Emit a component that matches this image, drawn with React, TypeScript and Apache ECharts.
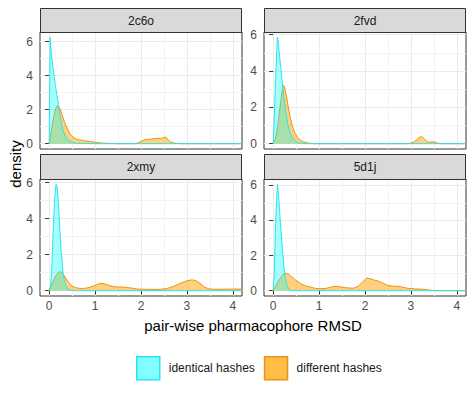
import React, { useEffect, useRef } from "react";
import * as echarts from "echarts";

const panelNames = ["2c6o", "2fvd", "2xmy", "5d1j"];
const seriesNames = ["identical hashes", "different hashes"];
const xTicks = [0, 1, 2, 3, 4];
const yTicks = [0, 2, 4, 6];
const xMinor = [0.5, 1.5, 2.5, 3.5];
const yMinor = [1, 3, 5];
const xTitle = "pair-wise pharmacophore RMSD";
const yTitle = "density";

const identical2c6o = [[0,0],[0.02,6.25],[0.05,5.2],[0.09,4.35],[0.13,3.5],[0.17,2.85],[0.2,2.3],[0.25,1.45],[0.3,0.8],[0.35,0.45],[0.4,0.25],[0.46,0.13],[0.52,0.07],[0.6,0.03],[0.8,0.01],[1,0],[4.2,0]];
const different2c6o = [[0,0],[0.05,0.8],[0.1,1.6],[0.14,2.05],[0.18,2.24],[0.22,2.15],[0.27,1.8],[0.33,1.3],[0.4,0.85],[0.47,0.52],[0.54,0.34],[0.62,0.24],[0.7,0.2],[0.8,0.16],[0.9,0.12],[1.0,0.08],[1.1,0.05],[1.2,0.03],[1.35,0.01],[1.5,0],[1.88,0],[1.95,0.06],[2.03,0.18],[2.1,0.25],[2.18,0.25],[2.26,0.28],[2.34,0.32],[2.42,0.31],[2.48,0.34],[2.54,0.39],[2.58,0.26],[2.63,0.12],[2.7,0.05],[2.8,0.01],[2.9,0],[4.2,0]];

const identical2fvd = [[0,0],[0.03,1.9],[0.06,4.1],[0.09,5.85],[0.11,5.6],[0.14,4.8],[0.17,4.1],[0.2,3.3],[0.24,2.4],[0.28,1.65],[0.32,1.05],[0.37,0.6],[0.42,0.33],[0.48,0.14],[0.55,0.05],[0.65,0.01],[0.75,0],[4.2,0]];
const different2fvd = [[0,0],[0.05,0.3],[0.1,1.0],[0.15,2.0],[0.19,2.85],[0.22,3.22],[0.25,3.1],[0.29,2.6],[0.33,2.0],[0.37,1.45],[0.42,0.95],[0.47,0.6],[0.53,0.35],[0.6,0.18],[0.67,0.09],[0.75,0.04],[0.85,0.01],[0.95,0],[2.9,0],[3.0,0.03],[3.08,0.12],[3.16,0.3],[3.23,0.4],[3.28,0.3],[3.33,0.15],[3.38,0.08],[3.44,0.1],[3.5,0.1],[3.56,0.05],[3.63,0.01],[3.7,0],[4.2,0]];

const identical2xmy = [[0,0],[0.03,0.2],[0.06,1.4],[0.09,3.5],[0.12,5.2],[0.15,5.9],[0.17,5.85],[0.2,4.9],[0.23,3.5],[0.26,2.2],[0.3,1.05],[0.33,0.55],[0.36,0.28],[0.41,0.07],[0.5,0.01],[0.6,0],[4.2,0]];
const different2xmy = [[0,0],[0.05,0.3],[0.1,0.6],[0.15,0.85],[0.2,1.0],[0.25,1.06],[0.3,0.95],[0.36,0.7],[0.42,0.45],[0.5,0.25],[0.6,0.15],[0.7,0.12],[0.8,0.14],[0.9,0.2],[1.0,0.3],[1.08,0.38],[1.15,0.41],[1.22,0.37],[1.3,0.29],[1.4,0.23],[1.5,0.2],[1.6,0.2],[1.7,0.18],[1.8,0.14],[1.9,0.1],[2.0,0.08],[2.2,0.07],[2.4,0.07],[2.55,0.11],[2.7,0.23],[2.85,0.4],[3.0,0.55],[3.1,0.6],[3.18,0.57],[3.28,0.42],[3.38,0.2],[3.48,0.1],[3.6,0.08],[3.8,0.08],[4.0,0.09],[4.2,0.09]];

const identical5d1j = [[0,0],[0.02,0.8],[0.04,2.6],[0.07,5.0],[0.094,6.05],[0.12,5.3],[0.14,4.5],[0.166,3.55],[0.2,2.4],[0.24,1.27],[0.27,0.7],[0.3,0.3],[0.34,0.1],[0.4,0.02],[0.5,0],[4.2,0]];
const different5d1j = [[0,0],[0.05,0.25],[0.1,0.5],[0.15,0.7],[0.2,0.88],[0.275,0.99],[0.33,0.95],[0.4,0.8],[0.49,0.6],[0.6,0.4],[0.71,0.27],[0.82,0.2],[0.92,0.13],[1.0,0.11],[1.13,0.12],[1.25,0.2],[1.35,0.25],[1.45,0.22],[1.57,0.17],[1.67,0.15],[1.75,0.14],[1.85,0.25],[1.95,0.5],[2.04,0.72],[2.12,0.68],[2.2,0.6],[2.29,0.55],[2.4,0.42],[2.5,0.3],[2.6,0.26],[2.72,0.25],[2.82,0.2],[2.94,0.13],[3.1,0.1],[3.23,0.09],[3.35,0.05],[3.45,0.02],[3.55,0],[4.2,0]];

const identicalByPanel = [identical2c6o, identical2fvd, identical2xmy, identical5d1j];
const differentByPanel = [different2c6o, different2fvd, different2xmy, different5d1j];

export default function App() {
  const ref = useRef<HTMLDivElement>(null);
  useEffect(() => {
    const chart = echarts.init(ref.current!, null, { renderer: "svg" });
    const font = "'Liberation Sans', Arial, Helvetica, sans-serif";
    const layout = [
      { left: 40, top: 32, stripTop: 8, stripH: 24 },
      { left: 264, top: 32, stripTop: 8, stripH: 24 },
      { left: 40, top: 179, stripTop: 154, stripH: 25 },
      { left: 264, top: 179, stripTop: 154, stripH: 25 },
    ];
    const W = 202;
    const H = 117;
    const cyanLine = "#2BE5EE";
    const cyanFill = "rgba(0,255,255,0.5)";
    const orangeLine = "#EB9316";
    const orangeFill = "rgba(255,165,0,0.72)";

    const grid = layout.map((p) => ({
      left: p.left, top: p.top, width: W, height: H,
      show: true, borderColor: "#333333", borderWidth: 1, backgroundColor: "#ffffff",
    }));

    const xAxis = layout.map((_, i) => ({
      type: "value", gridIndex: i, min: -0.2, max: 4.2,
      axisLine: { show: false },
      axisTick: { show: i >= 2, length: 4, lineStyle: { color: "#333333" }, customValues: xTicks },
      axisLabel: { show: i >= 2, customValues: xTicks, fontSize: 12, color: "#4D4D4D", margin: 4, fontFamily: font },
      splitLine: { show: true, lineStyle: { color: "#EBEBEB", width: 1 } },
    }));

    const yAxis = layout.map((_, i) => ({
      type: "value", gridIndex: i,
      min: (v: any) => -0.05 * v.max,
      max: (v: any) => 1.05 * v.max,
      splitNumber: 3,
      axisLine: { show: false },
      axisTick: { show: true, length: 4, lineStyle: { color: "#333333" }, customValues: yTicks },
      axisLabel: { customValues: yTicks, fontSize: 12, color: "#4D4D4D", margin: 7, fontFamily: font },
      splitLine: { show: true, lineStyle: { color: "#EBEBEB", width: 1 } },
    }));

    const series: any[] = [];
    layout.forEach((_, i) => {
      series.push({
        type: "line", name: "minor-grid-" + i, xAxisIndex: i, yAxisIndex: i, data: [], z: 1, silent: true,
        markLine: {
          z: 1, silent: true, symbol: ["none", "none"], label: { show: false },
          lineStyle: { color: "#F3F3F3", width: 1, type: "solid" },
          emphasis: { disabled: true },
          data: [...xMinor.map((v) => ({ xAxis: v })), ...yMinor.map((v) => ({ yAxis: v }))],
        },
      });
      series.push({
        type: "line", name: seriesNames[1], xAxisIndex: i, yAxisIndex: i,
        data: differentByPanel[i], showSymbol: false, symbol: "none", z: 2,
        lineStyle: { color: orangeLine, width: 1 },
        itemStyle: { color: orangeLine },
        areaStyle: { color: orangeFill, origin: 0 },
        emphasis: { disabled: true },
      });
      series.push({
        type: "line", name: seriesNames[0], xAxisIndex: i, yAxisIndex: i,
        data: identicalByPanel[i], showSymbol: false, symbol: "none", z: 3,
        lineStyle: { color: cyanLine, width: 1 },
        itemStyle: { color: cyanLine },
        areaStyle: { color: cyanFill, origin: 0 },
        emphasis: { disabled: true },
      });
    });

    const graphics: any[] = [];
    layout.forEach((p, i) => {
      graphics.push({
        type: "rect", z: 100,
        shape: { x: p.left + 0.5, y: p.stripTop + 0.5, width: W - 1, height: p.stripH },
        style: { fill: "#D9D9D9", stroke: "#333333", lineWidth: 1 },
      });
      graphics.push({
        type: "text", z: 101, x: p.left + W / 2, y: p.stripTop + p.stripH / 2 + 0.5,
        style: { text: panelNames[i], fontSize: 12, fill: "#1A1A1A", align: "center", verticalAlign: "middle", fontFamily: font },
      });
    });
    graphics.push({
      type: "text", x: 15, y: 164, rotation: Math.PI / 2,
      style: { text: yTitle, fontSize: 15, fill: "#000000", align: "center", verticalAlign: "middle", fontFamily: font },
    });
    graphics.push({
      type: "text", x: 253, y: 325,
      style: { text: xTitle, fontSize: 15, fill: "#000000", align: "center", verticalAlign: "middle", fontFamily: font },
    });

    chart.setOption({
      animation: false,
      backgroundColor: "#ffffff",
      grid, xAxis, yAxis, series,
      legend: {
        left: 136, top: 356, padding: 0, orient: "horizontal",
        itemWidth: 23, itemHeight: 23, itemGap: 9, selectedMode: false,
        textStyle: { fontSize: 12, color: "#1A1A1A", fontFamily: font, padding: [0, 0, 0, 4] },
        data: [
          { name: seriesNames[0], icon: "rect", itemStyle: { color: cyanFill, borderColor: cyanLine, borderWidth: 1.5 } },
          { name: seriesNames[1], icon: "rect", itemStyle: { color: orangeFill, borderColor: orangeLine, borderWidth: 1.5 } },
        ],
      },
      graphic: graphics,
    });
    return () => chart.dispose();
  }, []);
  return (
    <div
      ref={ref}
      style={{ position: "fixed", left: 0, top: 0, width: 474, height: 395, background: "#fff" }}
    />
  );
}
